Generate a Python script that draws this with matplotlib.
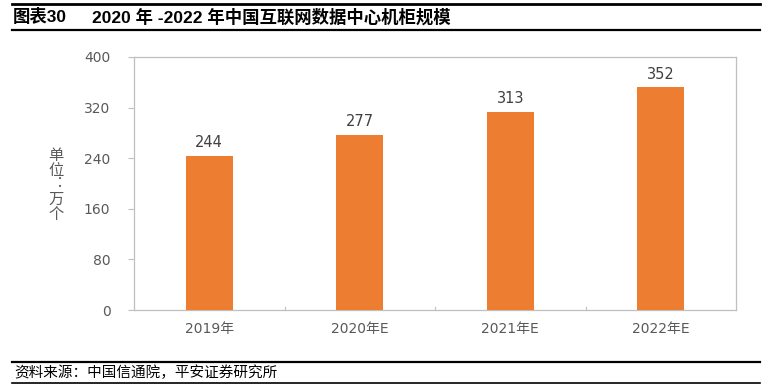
import matplotlib
matplotlib.use("Agg")
import matplotlib.pyplot as plt
from matplotlib.lines import Line2D

plt.rcParams['font.family'] = ['Noto Sans CJK SC', 'DejaVu Sans']

categories = ["2019年", "2020年E", "2021年E", "2022年E"]
values = [244, 277, 313, 352]
yticks = [0, 80, 160, 240, 320, 400]

W, H = 769, 386
fig = plt.figure(figsize=(W / 100, H / 100), dpi=100)

# plot area in pixels: left 134, right 736, top 57, bottom 310
l, r, t, b = 134, 736, 57, 310
ax = fig.add_axes([l / W, 1 - b / H, (r - l) / W, (b - t) / H])

x = list(range(len(categories)))
bars = ax.bar(x, values, width=0.31, color="#ED7D31", zorder=3)
ax.set_xlim(-0.5, len(categories) - 0.5)
ax.set_ylim(0, 400)
ax.set_yticks(yticks)
ax.set_yticklabels([str(v) for v in yticks])
ax.set_xticks(x)
ax.set_xticklabels(categories)
ax.tick_params(axis='x', length=0, pad=9, labelsize=10, colors="#595959")
ax.tick_params(axis='y', length=4, width=0.8, color="#BFBFBF", pad=13, labelsize=10, labelcolor="#595959")
for tl in ax.get_yticklabels():
    tl.set_fontfamily(['DejaVu Sans'])
for tl in ax.get_xticklabels():
    tl.set_fontfamily(['DejaVu Sans', 'Noto Sans CJK SC'])

# minor ticks at category boundaries on the bottom axis, pointing up
for bx in [0.5, 1.5, 2.5]:
    ax.plot([bx, bx], [0, 5], color="#BFBFBF", lw=0.8, zorder=2, clip_on=False)

for s in ax.spines.values():
    s.set_color("#BFBFBF")
    s.set_linewidth(0.9)

for xi, v in zip(x, values):
    ax.text(xi, v + 9, str(v), ha='center', va='bottom', fontsize=10.5,
            color="#404040", family=['DejaVu Sans'])

# y-axis label stacked vertically
fig.text(56 / W, 1 - 185 / H, "单\n位\n︓\n万\n个", ha='center', va='center',
         fontsize=11, color="#595959", linespacing=0.82)

# title and decorative lines
fig.add_artist(Line2D([12 / W, 760 / W], [1 - 4 / H, 1 - 4 / H], color="black", lw=2.0))
fig.add_artist(Line2D([12 / W, 760 / W], [1 - 30 / H, 1 - 30 / H], color="black", lw=1.6))
fig.text(13 / W, 1 - 17 / H, "图表30", ha='left', va='center', fontsize=12.5,
         fontweight='bold', color="black", family=['Liberation Sans', 'Noto Sans CJK SC'])
fig.text(92 / W, 1 - 17 / H, "2020 年 -2022 年中国互联网数据中心机柜规模", ha='left', va='center',
         fontsize=12.5, fontweight='bold', color="black", family=['Liberation Sans', 'Noto Sans CJK SC'])

fig.add_artist(Line2D([12 / W, 760 / W], [1 - 362 / H, 1 - 362 / H], color="black", lw=1.6))
fig.add_artist(Line2D([12 / W, 760 / W], [1 - 383 / H, 1 - 383 / H], color="black", lw=1.2))
fig.text(14 / W, 1 - 373 / H, "资料来源：中国信通院，平安证券研究所", ha='left', va='center',
         fontsize=10.5, style='italic', color="black")

fig.savefig("out.png", dpi=100)
